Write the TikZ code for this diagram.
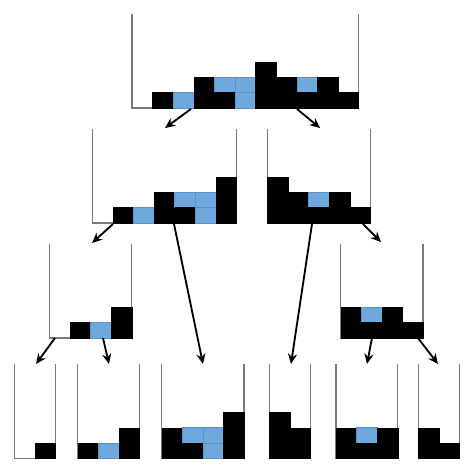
\documentclass[tikz,border=0pt]{standalone}
\usetikzlibrary{arrows.meta}
\definecolor{wat}{HTML}{6FA8DC}
\definecolor{watline}{HTML}{5A92C6}
\definecolor{wallc}{HTML}{7A7A7A}
\tikzset{
  wall/.style={draw=wallc, line width=0.75pt},
  water/.style={fill=wat, draw=watline, line width=0.3pt},
  block/.style={fill=black, draw=black, line width=0.2pt},
  arr/.style={-{Stealth[length=5.8pt,width=5.2pt]}, line width=1.05pt, draw=black},
}
\newcommand\cw{20.6}
\newcommand\ch{15.4}
\newcommand\wellpanel[5]{%
  \begin{scope}[shift={(#2,#3)}]
    \coordinate (#1) at (0,0);
    \draw[wall] (0,-94) -- (0,0) -- (#4*\cw,0) -- (#4*\cw,-94);
    \foreach \hh/\ww [count=\ci from 0] in {#5} {
      \pgfmathtruncatemacro\nw{\ww-\hh}
      \ifnum\nw>0
        \foreach \k in {1,...,\nw} {
          \filldraw[water] (\ci*\cw, -\hh*\ch-\k*\ch+\ch) rectangle ++(\cw,-\ch);
        }
      \fi
      \ifnum\hh>0
        \filldraw[block] (\ci*\cw,0) rectangle ++(\cw,-\hh*\ch);
      \fi
    }
  \end{scope}}
\begin{document}
\begin{tikzpicture}[x=0.02cm, y=-0.02cm]
\useasboundingbox (0,0) rectangle (474,472);
\wellpanel{top}{132}{108}{11}{0/0,1/1,0/1,2/2,1/2,0/2,3/3,2/2,1/2,2/2,1/1}
\wellpanel{l2}{92.3}{223}{7}{0/0,1/1,0/1,2/2,1/2,0/2,3/3}
\wellpanel{r2}{267.3}{223}{5}{3/3,2/2,1/2,2/2,1/1}
\wellpanel{l3}{49.3}{338}{4}{0/0,1/1,0/1,2/2}
\wellpanel{r3}{340.7}{338}{4}{2/2,1/2,2/2,1/1}
\wellpanel{ba}{14.3}{458.5}{2}{0/0,1/1}
\wellpanel{bb}{77.7}{458.5}{3}{1/1,0/1,2/2}
\wellpanel{bc}{161.7}{458.5}{4}{2/2,1/2,0/2,3/3}
\wellpanel{bd}{269.3}{458.5}{2}{3/3,2/2}
\wellpanel{be}{336}{458.5}{3}{2/2,1/2,2/2}
\wellpanel{bf}{418.3}{458.5}{2}{2/2,1/1}
% arrow end points
\coordinate (t1s) at (191,109);  \coordinate (t1e) at (165,128);
\coordinate (t2s) at (297,109);  \coordinate (t2e) at (320,128);
\coordinate (l2as) at (113,224); \coordinate (l2ae) at (92,243);
\coordinate (l2bs) at (174,224); \coordinate (l2be) at (203,364);
\coordinate (r2as) at (312,224); \coordinate (r2ae) at (291,364);
\coordinate (r2bs) at (363,224); \coordinate (r2be) at (381,242);
\coordinate (l3as) at (55,338);  \coordinate (l3ae) at (36,364);
\coordinate (l3bs) at (103,338); \coordinate (l3be) at (109,364);
\coordinate (r3as) at (372,338); \coordinate (r3ae) at (367,364);
\coordinate (r3bs) at (418,338); \coordinate (r3be) at (438,364);
\draw[arr] (t1s) -- (t1e);
\draw[arr] (t2s) -- (t2e);
\draw[arr] (l2as) -- (l2ae);
\draw[arr] (l2bs) -- (l2be);
\draw[arr] (r2as) -- (r2ae);
\draw[arr] (r2bs) -- (r2be);
\draw[arr] (l3as) -- (l3ae);
\draw[arr] (l3bs) -- (l3be);
\draw[arr] (r3as) -- (r3ae);
\draw[arr] (r3bs) -- (r3be);
\end{tikzpicture}
\end{document}
